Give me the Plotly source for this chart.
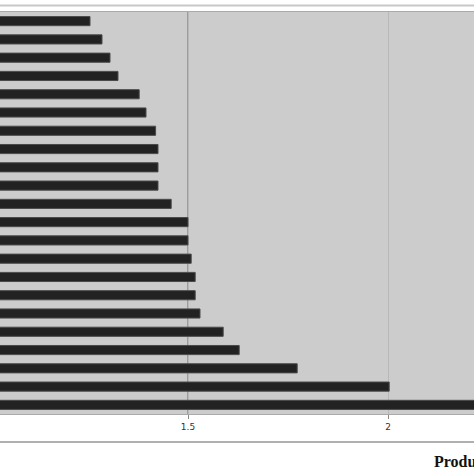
import plotly.graph_objects as go

categories = [f"Item {i}" for i in range(1, 23)]
values = [1.255, 1.285, 1.305, 1.325, 1.378, 1.395, 1.419, 1.425, 1.425, 1.425,
          1.458, 1.500, 1.500, 1.508, 1.518, 1.518, 1.530, 1.588, 1.628, 1.773,
          2.003, 2.350]
tick_vals = [1.5, 2]
tick_text = ["1.5", "2"]
axis_title = "Production"

fig = go.Figure(go.Bar(
    x=values, y=categories, orientation="h",
    width=0.5,
    marker=dict(color="#222222", line=dict(color="#4a4a4a", width=1)),
))

fig.update_layout(
    width=474, height=474,
    margin=dict(l=0, r=0, t=12, b=60),
    paper_bgcolor="white",
    plot_bgcolor="#cccccc",
    showlegend=False,
    font=dict(family="DejaVu Sans", color="#333333"),
)
fig.update_xaxes(
    range=[1.03, 2.215],
    tickmode="array", tickvals=tick_vals, ticktext=tick_text,
    showgrid=True, gridcolor="#b8b8b8", gridwidth=1,
    zeroline=False,
    showline=True, linecolor="#aaaaaa", linewidth=1, mirror=True,
    ticks="outside", ticklen=4, tickcolor="#888888",
    tickfont=dict(size=9, color="#333333"),
)
fig.update_yaxes(
    autorange="reversed",
    showticklabels=False, showgrid=False, zeroline=False,
    showline=False, ticks="",
)
fig.add_vline(x=1.5, line=dict(color="#6e6e6e", width=1), layer="below")
# decorative frame lines above and below the plot
fig.add_shape(type="line", xref="paper", yref="paper", x0=0, x1=1,
              y0=1.0162, y1=1.0162, line=dict(color="#c8c8c8", width=2))
fig.add_shape(type="line", xref="paper", yref="paper", x0=0, x1=1,
              y0=-0.0697, y1=-0.0697, line=dict(color="#b0b0b0", width=2))
fig.add_annotation(
    text="<b>" + axis_title + "</b>", xref="paper", yref="paper",
    x=432 / 474, y=-0.119, xanchor="left", yanchor="middle",
    showarrow=False,
    font=dict(family="Liberation Serif", size=16, color="#111111"),
)

fig.write_html(
    "out.html",
    config={"displayModeBar": False},
    post_script="document.body.style.margin='0';document.body.style.overflow='hidden';",
)
